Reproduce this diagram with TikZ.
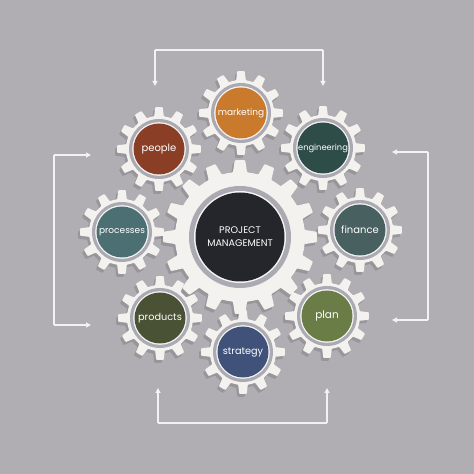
\documentclass[tikz,border=0pt]{standalone}
\usepackage{fontspec}
\setmainfont{Poppins}
\usetikzlibrary{arrows.meta}
\definecolor{bg}{HTML}{B0ADB3}
\definecolor{gearw}{HTML}{F3F2EF}
\definecolor{ringg}{HTML}{ABAAB2}
\definecolor{arrw}{HTML}{F2F2F4}
\definecolor{cpeople}{HTML}{8A3E25}
\definecolor{cmarket}{HTML}{C97A2C}
\definecolor{cengin}{HTML}{2E4C48}
\definecolor{cfin}{HTML}{48605F}
\definecolor{cproc}{HTML}{4B6F72}
\definecolor{cprod}{HTML}{4A5235}
\definecolor{cplan}{HTML}{6A7D47}
\definecolor{cstrat}{HTML}{40527A}
\definecolor{ccenter}{HTML}{25252C}
\newcommand\gearfill[6]{% cx cy n rroot rtip style
  \pgfmathsetmacro\ga{360/#3}%
  \pgfmathtruncatemacro\gn{#3-1}%
  \fill[#6,shift={(#1,#2)},rounded corners=0.8pt] ({-0.28*\ga}:#4pt)
    \foreach \i in {0,...,\gn}{
      -- ({\i*\ga-0.17*\ga}:#5pt) -- ({\i*\ga+0.17*\ga}:#5pt)
      -- ({\i*\ga+0.28*\ga}:#4pt)
      arc[start angle={\i*\ga+0.28*\ga}, delta angle={0.44*\ga}, radius=#4pt]
    } -- cycle;
}
\newcommand\smallgear[6]{% name x y color fontsize text
  \gearfill{#2}{#3}{12}{33}{42}{gearw}
  \fill[ringg] (#2,#3) circle[radius=30pt];
  \fill[white!92!gray] (#2,#3) circle[radius=26.8pt];
  \node[lbl, fill=#4, font=\fontsize{#5}{#5}\selectfont] (#1) at (#2,#3) {#6};
}
\tikzset{
  lbl/.style={circle, minimum size=51pt, inner sep=0pt, text=white},
  conn/.style={draw=arrw, line width=1.1pt, -{Triangle[length=5pt,width=5pt]}},
}
\begin{document}
\begin{tikzpicture}[x=1pt,y=1pt]
\fill[bg] (0,0) rectangle (474,474);
\useasboundingbox (0,0) rectangle (474,474);
% shadows
\begin{scope}[shift={(-2,-3)}]
\foreach \x/\y in {241/361,159/325,323/326,122/242,360/244,160/156,327/158,243/122}{
  \gearfill{\x}{\y}{12}{33}{42}{black,opacity=0.13}
}
\gearfill{240}{237}{16}{65}{77}{black,opacity=0.13}
\end{scope}
% small gears
\smallgear{marketing}{241}{361}{cmarket}{9}{marketing}
\smallgear{people}{159}{325}{cpeople}{10}{people}
\smallgear{engineering}{323}{326}{cengin}{8.3}{engineering}
\smallgear{processes}{122}{242}{cproc}{9}{processes}
\smallgear{finance}{360}{244}{cfin}{10}{finance}
\smallgear{products}{160}{156}{cprod}{9.7}{products}
\smallgear{plan}{327}{158}{cplan}{10.5}{plan}
\smallgear{strategy}{243}{122}{cstrat}{9.7}{strategy}
% center gear
\gearfill{240}{237}{16}{65}{77}{gearw}
\fill[ringg] (240,237) circle[radius=51pt];
\fill[white!92!gray] (240,237) circle[radius=46pt];
\node[circle, fill=ccenter, minimum size=89pt, inner sep=0pt, text=white, align=center,
  font=\fontsize{9.6}{13}\selectfont] (pm) at (240,237) {PROJECT\\MANAGEMENT};
% connectors
\coordinate (t1) at (155,388); \coordinate (t2) at (323,388);
\coordinate (tc1) at (155,424); \coordinate (tc2) at (323,424);
\draw[conn] (tc1) -- (t1);
\draw[conn] (tc2) -- (t2);
\draw[draw=arrw, line width=1.1pt] (tc1) -- (tc2);
\coordinate (b1) at (158,86); \coordinate (b2) at (327,86);
\coordinate (bc1) at (158,51); \coordinate (bc2) at (327,51);
\draw[conn] (bc1) -- (b1);
\draw[conn] (bc2) -- (b2);
\draw[draw=arrw, line width=1.1pt] (bc1) -- (bc2);
\coordinate (l1) at (91,319); \coordinate (l2) at (91,149);
\coordinate (lc1) at (54,319); \coordinate (lc2) at (54,149);
\draw[conn] (lc1) -- (l1);
\draw[conn] (lc2) -- (l2);
\draw[draw=arrw, line width=1.1pt] (lc1) -- (lc2);
\coordinate (r1) at (392,322); \coordinate (r2) at (392,154);
\coordinate (rc1) at (428,322); \coordinate (rc2) at (428,154);
\draw[conn] (rc1) -- (r1);
\draw[conn] (rc2) -- (r2);
\draw[draw=arrw, line width=1.1pt] (rc1) -- (rc2);
\end{tikzpicture}
\end{document}
